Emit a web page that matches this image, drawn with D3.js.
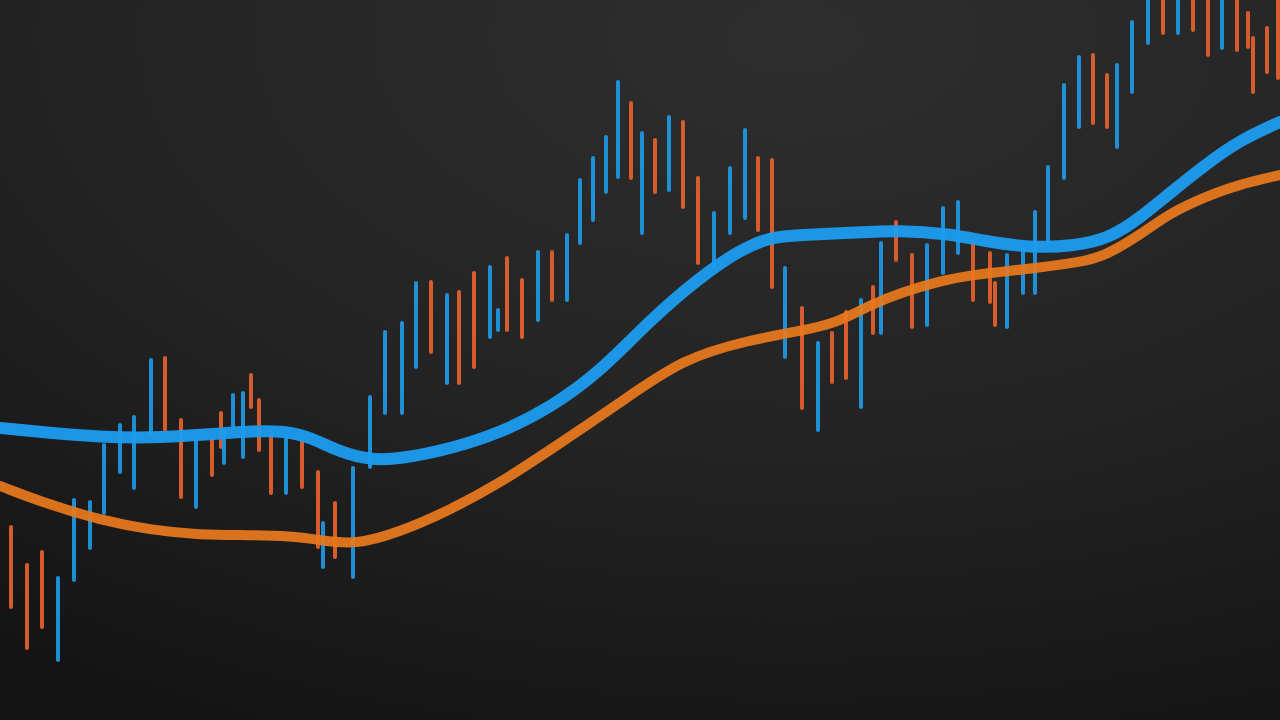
<!DOCTYPE html>
<html><head><meta charset="utf-8">
<script src="https://cdn.jsdelivr.net/npm/d3@7"></script>
<style>html,body{margin:0;padding:0;background:#1c1c1c;overflow:hidden}</style>
</head><body>
<svg id="c" width="1280" height="720"></svg>
<script>
// Session time (arbitrary units) of each bar
const barTime = [1.1,2.7,4.2,5.8,7.4,9.0,10.4,12.0,13.4,15.1,16.5,18.1,19.6,21.2,22.1,22.4,23.3,24.3,25.1,25.9,27.1,28.6,30.2,31.8,32.3,33.5,35.3,37.0,38.5,40.2,41.6,43.1,44.7,45.9,47.4,49.0,49.8,50.7,52.2,53.8,55.2,56.7,58.0,59.3,60.6,61.8,63.1,64.2,65.5,66.9,68.3,69.8,71.4,73.0,74.5,75.8,77.2,78.5,80.2,81.8,83.2,84.6,86.1,87.3,88.1,89.6,91.2,92.7,94.3,95.8,97.3,99.0,99.5,100.7,102.3,103.5,104.8,106.4,107.9,109.3,110.7,111.7,113.2,114.8,116.3,117.8,119.3,120.8,122.2,123.7,124.8,125.3,126.7,127.8];
// Bar highs and lows (price units)
const barHigh = [19.3,15.5,16.8,14.2,22.0,21.8,27.5,29.5,30.3,36.0,36.2,30.0,28.0,28.0,30.7,29.0,32.5,32.7,34.5,32.0,28.5,28.3,27.8,24.8,19.7,21.7,25.2,32.3,38.8,39.7,43.7,43.8,42.5,42.8,44.7,45.3,41.0,46.2,44.0,46.8,46.8,48.5,54.0,56.2,58.3,63.8,61.7,58.7,58.0,60.3,59.8,54.2,50.7,55.2,59.0,56.2,56.0,45.2,41.2,37.7,38.7,40.8,42.0,43.3,47.7,49.8,46.5,47.5,51.2,51.8,47.7,46.7,43.7,46.5,47.3,50.8,55.3,63.5,66.3,66.5,64.5,65.5,69.8,72.3,72.3,72.3,72.3,72.3,72.3,72.3,70.7,68.2,69.2,72.3];
const barLow  = [11.3,7.2,9.3,6.0,14.0,17.2,20.7,24.8,23.2,28.7,29.0,22.3,21.3,24.5,27.3,25.7,29.3,26.3,31.3,27.0,22.7,22.7,23.3,17.3,15.3,16.3,14.3,25.3,30.7,30.7,35.3,36.8,33.7,33.7,35.3,38.3,39.0,39.0,38.3,40.0,42.0,42.0,47.7,50.0,52.8,54.3,54.2,48.7,52.8,53.0,51.3,45.7,45.3,48.7,50.2,49.0,43.3,36.3,31.2,29.0,33.8,34.2,31.3,38.7,38.7,46.0,39.3,39.5,44.7,46.7,42.0,41.8,39.5,39.3,42.7,42.7,47.7,54.2,59.3,59.7,59.3,57.3,62.8,67.7,68.7,68.7,69.0,66.5,67.2,67.0,67.3,62.8,64.8,64.2];
// 1 = rising (blue), 0 = falling (orange)
const barUp = [0,0,0,1,1,1,1,1,1,1,0,0,1,0,0,1,1,1,0,0,0,1,0,0,1,0,1,1,1,1,1,0,1,0,0,1,1,0,0,1,0,1,1,1,1,1,0,1,0,1,0,0,1,1,1,0,0,1,0,1,0,0,1,0,1,0,0,1,1,1,0,0,0,1,1,1,1,1,1,0,0,1,1,1,0,1,0,0,1,0,0,0,0,0];
// Fast moving average (blue)
const fastT = [0,5,10,15,20,25,28.5,31,34,37,40,45,50,55,60,65,70,74,77,80,85,90,95,98.5,103,107.5,111,114,117,120.5,124,128];
const fastV = [29.2,28.7,28.3,28.2,28.5,28.9,28.9,28.3,26.8,26.0,26.1,27.1,28.7,31.2,34.8,40.0,44.3,47.0,48.3,48.5,48.7,49.0,48.6,47.9,47.2,47.4,48.2,50.2,52.7,55.5,58.0,59.8];
// Slow moving average (orange)
const slowT = [0,5,10,15,20,25,29,32,35.5,40,45,50,55,61.7,68.3,75,80,83.7,87,90.3,94,97,103.7,108,110.3,114,117,120.5,123.7,128];
const slowV = [23.4,21.5,20.0,19.0,18.5,18.5,18.4,18.0,17.5,18.8,21.0,23.7,27.0,31.5,36.2,38.0,38.9,39.7,41.5,42.8,43.9,44.5,45.2,45.8,46.3,48.5,50.7,52.3,53.5,54.5];

const W = 1280, H = 720;
const svg = d3.select('#c');
const x = d3.scaleLinear().domain([0, 128]).range([0, W]);
const y = d3.scaleLinear().domain([0, 72]).range([H, 0]);

// background
const defs = svg.append('defs');
const g1 = defs.append('radialGradient').attr('id','bg')
  .attr('cx','0.62').attr('cy','0.05').attr('r','1.05');
g1.append('stop').attr('offset','0').attr('stop-color','#2e2e2e');
g1.append('stop').attr('offset','0.55').attr('stop-color','#232323');
g1.append('stop').attr('offset','1').attr('stop-color','#141414');
svg.append('rect').attr('width',W).attr('height',H).attr('fill','url(#bg)');

const bars = barTime.map((t,i)=>({t, hi:barHigh[i], lo:barLow[i], up:barUp[i]}));

svg.append('g').selectAll('line').data(bars).join('line')
  .attr('x1', d=>x(d.t)).attr('x2', d=>x(d.t))
  .attr('y1', d=>y(d.hi)).attr('y2', d=>y(d.lo))
  .attr('stroke', d=> d.up ? '#1f95e0' : '#e0602c')
  .attr('stroke-width', 4)
  .attr('stroke-linecap','round')
  .attr('opacity', 0.95);

const line = d3.line().x(d=>x(d[0])).y(d=>y(d[1])).curve(d3.curveBasis);

svg.append('path').datum(slowT.map((t,i)=>[t, slowV[i]]))
  .attr('d', line).attr('fill','none')
  .attr('stroke','#e8781e').attr('stroke-width',10)
  .attr('stroke-linecap','round').attr('opacity',0.93);

svg.append('path').datum(fastT.map((t,i)=>[t, fastV[i]]))
  .attr('d', line).attr('fill','none')
  .attr('stroke','#1c9cf0').attr('stroke-width',12)
  .attr('stroke-linecap','round').attr('opacity',0.95);
</script>
</body></html>
